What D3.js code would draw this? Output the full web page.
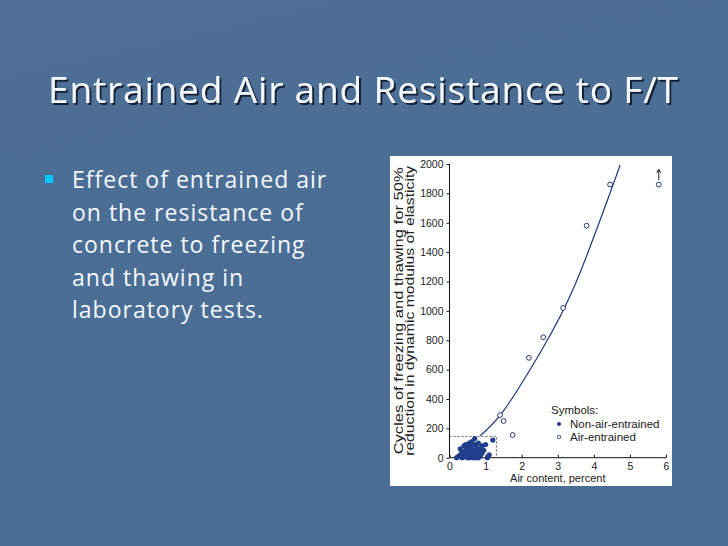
<!DOCTYPE html>
<html><head><meta charset="utf-8">
<script src="https://cdn.jsdelivr.net/npm/d3@7"></script>
<style>body{margin:0;overflow:hidden}</style></head>
<body><svg id="s" width="728" height="546"></svg>
<script>
const title = "Entrained Air and Resistance to F/T";
const bulletLines = ["Effect of entrained air","on the resistance of","concrete to freezing","and thawing in","laboratory tests."];
const xTicks = [0,1,2,3,4,5,6];
const yTicks = [0,200,400,600,800,1000,1200,1400,1600,1800,2000];
const airEntrained = [[1.4,290],[1.5,250],[1.75,155],[2.2,680],[2.6,820],[3.15,1020],[3.8,1580],[4.45,1860],[5.8,1860]];
const nonAir = [[0.2,0],[0.25,10],[0.3,60],[0.3,20],[0.35,40],[0.35,0],[0.4,80],[0.4,30],[0.45,50],[0.45,10],[0.5,70],[0.5,20],[0.5,0],[0.55,40],[0.55,100],[0.6,60],[0.6,10],[0.6,80],[0.65,30],[0.65,0],[0.7,130],[0.7,50],[0.7,90],[0.75,20],[0.75,70],[0.8,40],[0.8,100],[0.8,0],[0.85,60],[0.85,10],[0.9,80],[0.9,30],[0.95,50],[1.0,90],[0.45,90],[0.38,5],[0.62,110],[0.72,0],[1.2,120],[1.1,20],[1.05,0],[0.55,0]];
const curve = [[0.85,150],[1.5,320],[2.5,710],[3.5,1190],[4.73,1993]];
const yLabel = ["Cycles of freezing and thawing for 50%","reduction in dynamic modulus of elasticity"];
const xLabel = "Air content, percent";

const svg = d3.select("#s");
const defs = svg.append("defs");
const g = defs.append("linearGradient").attr("id","bg").attr("x1",0).attr("y1",0).attr("x2",0.3).attr("y2",1);
g.append("stop").attr("offset",0).attr("stop-color","#4d6f96");
g.append("stop").attr("offset",1).attr("stop-color","#4a6d94");
svg.append("rect").attr("width",728).attr("height",546).attr("fill","url(#bg)");
const f = defs.append("filter").attr("id","sh");
f.append("feDropShadow").attr("dx",2).attr("dy",2).attr("stdDeviation",0.6).attr("flood-color","#0a1525").attr("flood-opacity",0.9);
svg.append("text").attr("x",48).attr("y",103).attr("fill","#f4f8ff").attr("font-family","Open Sans, sans-serif")
  .attr("font-size",37).attr("font-weight",500).attr("textLength",630).attr("filter","url(#sh)").text(title);
svg.append("rect").attr("x",45).attr("y",175).attr("width",8).attr("height",8).attr("fill","#00c8ff");
bulletLines.forEach((t,i)=>svg.append("text").attr("x",72).attr("y",188+i*32.5).attr("fill","#f4f8ff")
  .attr("font-family","Open Sans, sans-serif").attr("font-size",23).attr("letter-spacing",1).text(t));

svg.append("rect").attr("x",390).attr("y",156).attr("width",282).attr("height",330).attr("fill","#fff");
const x = d3.scaleLinear().domain([0,6]).range([449.5,666]);
const y = d3.scaleLinear().domain([0,2000]).range([457.7,164]);
const ink="#1f3a7a";
const ff="Liberation Sans, Arial, sans-serif";
const xa = svg.append("g").attr("transform","translate(0,457.7)").call(d3.axisBottom(x).tickValues(xTicks).tickFormat(d3.format("d")).tickSize(-3).tickPadding(5));
const ya = svg.append("g").attr("transform","translate(449.5,0)").call(d3.axisLeft(y).tickValues(yTicks).tickFormat(d3.format("d")).tickSize(3).tickPadding(3));
[xa,ya].forEach(a=>{a.selectAll("path,line").attr("stroke","#111");a.selectAll("text").attr("font-family",ff).attr("font-size",10.5).attr("fill","#222");});
ya.select(".domain").attr("d","M0,457.7V164");
xa.select(".domain").attr("d","M449.5,0H666");
svg.append("text").attr("x",x(3)).attr("y",482).attr("text-anchor","middle").attr("font-family",ff).attr("font-size",11).attr("fill","#222").text(xLabel);
yLabel.forEach((t,i)=>svg.append("text").attr("transform",`translate(${403+i*10.5},${y(1000)}) rotate(-90)`).attr("text-anchor","middle")
  .attr("font-family",ff).attr("font-size",12).attr("textLength",i?290:287).attr("lengthAdjust","spacingAndGlyphs").attr("fill","#222").text(t));
svg.append("path").attr("d",`M${x(0)},${y(145)}H${x(1.3)}V${y(0)}`).attr("fill","none").attr("stroke","#333").attr("stroke-dasharray","2,2").attr("stroke-width",0.8);
svg.append("path").datum(curve).attr("d",d3.line().x(d=>x(d[0])).y(d=>y(d[1])).curve(d3.curveNatural)).attr("fill","none").attr("stroke",ink).attr("stroke-width",1.2);
svg.selectAll(".na").data(nonAir).join("circle").attr("cx",d=>x(d[0])).attr("cy",d=>y(d[1])).attr("r",2.6).attr("fill","#1f3f8c");
svg.selectAll(".ae").data(airEntrained).join("circle").attr("cx",d=>x(d[0])).attr("cy",d=>y(d[1])).attr("r",2.4).attr("fill","#fff").attr("stroke",ink).attr("stroke-width",1);
svg.append("path").attr("d",`M${x(5.8)},${y(1890)}V${y(1960)}M${x(5.8)-2},${y(1940)}L${x(5.8)},${y(1965)}L${x(5.8)+2},${y(1940)}`).attr("stroke","#222").attr("fill","none").attr("stroke-width",1);
svg.append("text").attr("x",551).attr("y",414).attr("font-family",ff).attr("font-size",11.5).attr("fill","#222").text("Symbols:");
svg.append("circle").attr("cx",559).attr("cy",424).attr("r",2).attr("fill","#1f3f8c");
svg.append("text").attr("x",570).attr("y",428).attr("font-family",ff).attr("font-size",11.5).attr("fill","#222").text("Non-air-entrained");
svg.append("circle").attr("cx",559).attr("cy",437).attr("r",1.8).attr("fill","#fff").attr("stroke",ink).attr("stroke-width",0.8);
svg.append("text").attr("x",570).attr("y",441).attr("font-family",ff).attr("font-size",11.5).attr("fill","#222").text("Air-entrained");
</script></body></html>
